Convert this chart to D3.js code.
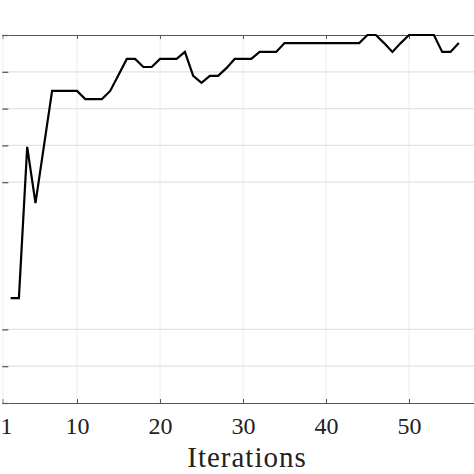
<!DOCTYPE html>
<html>
<head>
<meta charset="utf-8">
<script src="https://cdn.jsdelivr.net/npm/d3@7"></script>
<style>
  html, body { margin: 0; padding: 0; background: #fff; }
  svg { display: block; }
</style>
</head>
<body>
<svg id="chart" width="474" height="474"></svg>
<script>
// ---- data ----
const iterations = [2,3,4,5,6,7,8,9,10,11,12,13,14,15,16,17,18,19,20,21,22,23,24,25,26,27,28,29,30,31,32,33,34,35,36,37,38,39,40,41,42,43,44,45,46,47,48,49,50,51,52,53,54,55,56];
const values = [2.85,2.85,6.96,5.43,6.96,8.48,8.48,8.48,8.48,8.26,8.26,8.26,8.48,8.91,9.35,9.35,9.13,9.13,9.35,9.35,9.35,9.54,8.89,8.70,8.89,8.89,9.10,9.35,9.35,9.35,9.54,9.54,9.54,9.78,9.78,9.78,9.78,9.78,9.78,9.78,9.78,9.78,9.78,10,10,9.78,9.54,9.78,10,10,10,10,9.54,9.54,9.78];
const xTicks = [1,10,20,30,40,50];
const yGridTicks = [1,2,6,7,8,9];
const yTickMarks = [0,1,2,6,7,8,9,10];
const xLabel = "Iterations";

// ---- layout ----
const svg = d3.select("#chart");
const left = 2.3, unit = 8.3;
const x = d3.scaleLinear().domain([1, 60]).range([left, left + 59 * unit]);
const y = d3.scaleLinear().domain([0, 10]).range([403, 35]);
const x0 = x.range()[0], x1 = x.range()[1];

// grid lines
svg.append("g").selectAll("line.gx").data(xTicks.filter(d => d !== 1)).join("line")
  .attr("x1", d => x(d)).attr("x2", d => x(d))
  .attr("y1", y(0)).attr("y2", y(10))
  .attr("stroke", "#ececec").attr("stroke-width", 1);
svg.append("g").selectAll("line.gy").data(yGridTicks).join("line")
  .attr("x1", x0).attr("x2", x1)
  .attr("y1", d => y(d)).attr("y2", d => y(d))
  .attr("stroke", "#e2e2e2").attr("stroke-width", 1.2);

// bottom axis
const xAxis = d3.axisBottom(x).tickValues(xTicks).tickSize(-4).tickPadding(14).tickFormat(d3.format("d"));
const gx = svg.append("g").attr("transform", `translate(0,${y(0)})`).call(xAxis);
gx.select(".domain").attr("stroke", "#555").attr("stroke-width", 1.2);
gx.selectAll(".tick line").attr("stroke", "#555");
gx.selectAll(".tick text")
  .attr("fill", "#222")
  .style("font-family", "'Liberation Serif', 'DejaVu Serif', serif")
  .style("font-size", "24px");
// keep the first label inside the frame
gx.selectAll(".tick text").filter(d => d === 1)
  .attr("text-anchor", "start").attr("x", -x0);

// top border with ticks
const xTop = d3.axisTop(x).tickValues(xTicks).tickSize(-4).tickFormat("");
const gt = svg.append("g").attr("transform", `translate(0,${y(10)})`).call(xTop);
gt.select(".domain").attr("stroke", "#555").attr("stroke-width", 1.2);
gt.selectAll(".tick line").attr("stroke", "#555");

// left axis (labels are cut off in the frame)
const yAxis = d3.axisLeft(y).tickValues(yTickMarks).tickSize(-6).tickFormat("");
const gy = svg.append("g").attr("transform", `translate(${x0},0)`).call(yAxis);
gy.select(".domain").attr("stroke", "#eee").attr("stroke-width", 1);
gy.selectAll(".tick line").attr("stroke", "#555").attr("stroke-width", 1.2);

// line
const line = d3.line().x((d, i) => x(iterations[i])).y(d => y(d));
svg.append("path").datum(values)
  .attr("d", line)
  .attr("fill", "none")
  .attr("stroke", "#000")
  .attr("stroke-width", 2.2)
  .attr("stroke-linejoin", "miter");

// x label
svg.append("text")
  .attr("x", 247).attr("y", 467)
  .attr("text-anchor", "middle")
  .attr("fill", "#222")
  .style("font-family", "'Liberation Serif', 'DejaVu Serif', serif")
  .style("font-size", "29px")
  .style("letter-spacing", "1px")
  .text(xLabel);
</script>
</body>
</html>
